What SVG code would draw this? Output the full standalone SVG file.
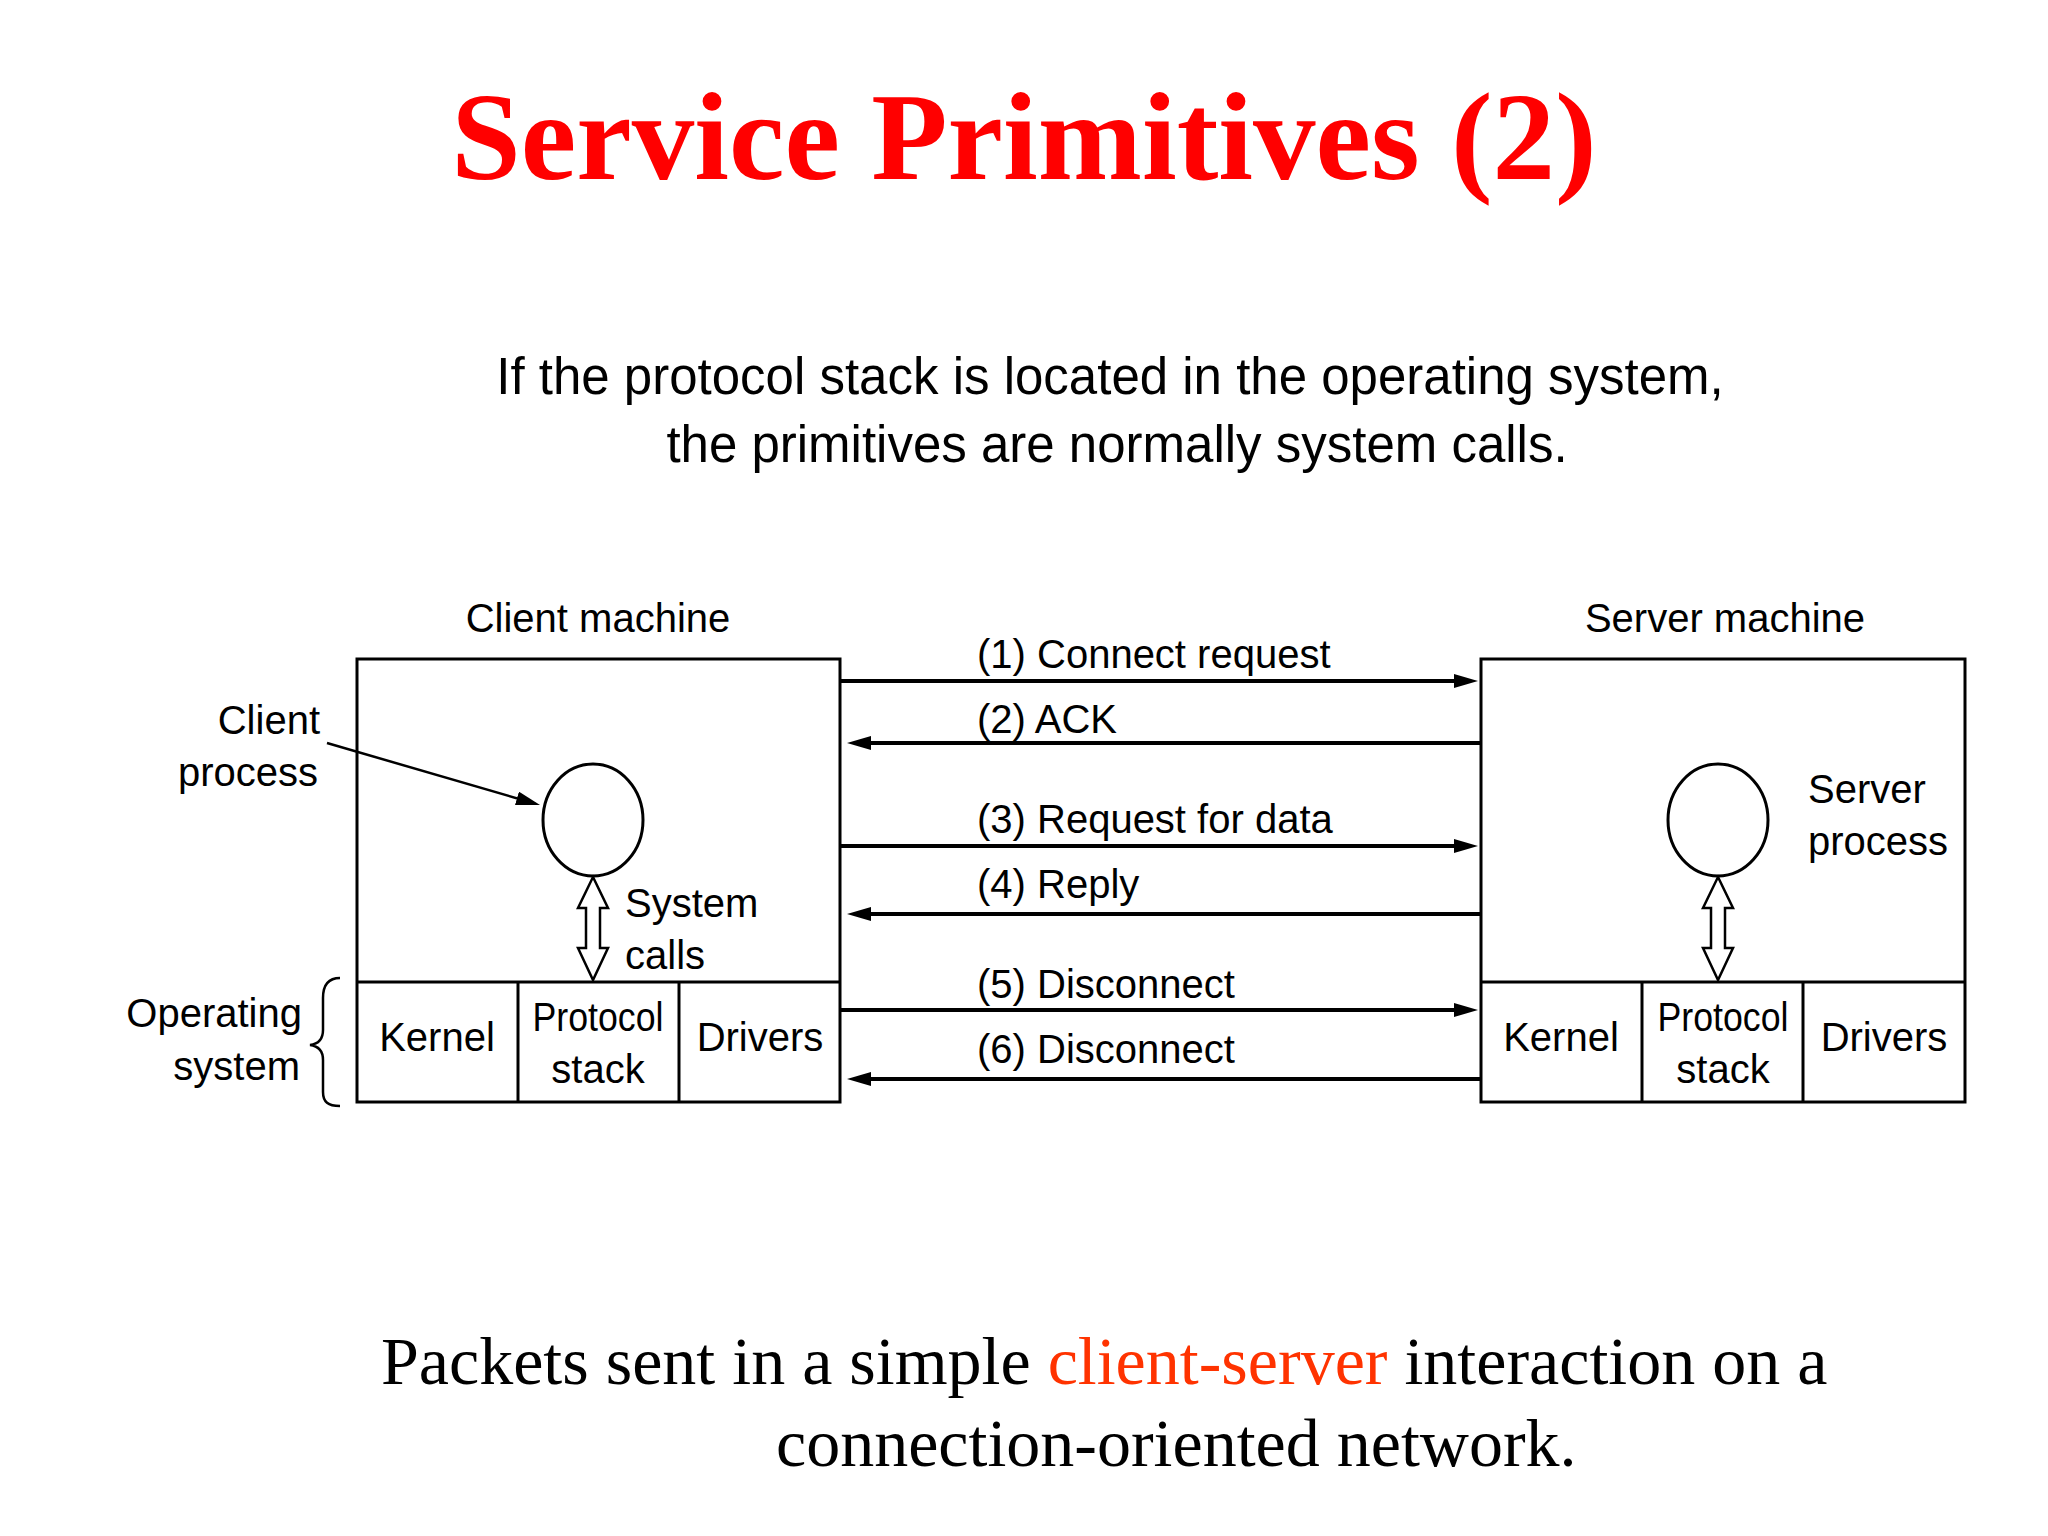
<svg xmlns="http://www.w3.org/2000/svg" width="2048" height="1536" viewBox="0 0 2048 1536">
  <style>
    .lbl { font-family: "Liberation Sans", Arial, sans-serif; font-size: 40px; fill: #000; }
    .mid { text-anchor: middle; }
    .end { text-anchor: end; }
    .box { fill: #fff; stroke: #000; stroke-width: 3; }
    .div { fill: none; stroke: #000; stroke-width: 3; }
    .proc { fill: #fff; stroke: #000; stroke-width: 3; }
    .dbl { fill: #fff; stroke: #000; stroke-width: 2.5; stroke-linejoin: miter; }
    .msg { fill: none; stroke: #000; stroke-width: 4; }
    .ptr { fill: none; stroke: #000; stroke-width: 2.5; }
    .title { font-family: "Liberation Serif", "Times New Roman", serif; font-weight: bold; font-size: 125px; fill: #ff0000; }
    .sub { font-family: "Liberation Sans", Arial, sans-serif; font-size: 51px; fill: #000; }
    .cap { font-family: "Liberation Serif", "Times New Roman", serif; font-size: 68px; fill: #000; }
  </style>
  <defs>
    <marker id="ah" markerUnits="userSpaceOnUse" markerWidth="24" markerHeight="14" viewBox="0 0 24 14" refX="12" refY="7" orient="auto">
      <path d="M0,0 L24,7 L0,14 z" fill="#000"/>
    </marker>
    <marker id="ahs" markerUnits="userSpaceOnUse" markerWidth="24" markerHeight="14" viewBox="0 0 24 14" refX="12" refY="7" orient="auto">
      <path d="M0,0 L24,7 L0,14 z" fill="#000"/>
    </marker>
  </defs>
  <rect width="2048" height="1536" fill="#fff"/>

  <text class="title mid" x="1024" y="179">Service Primitives (2)</text>
  <text class="sub mid" x="1110" y="394">If the protocol stack is located in the operating system,</text>
  <text class="sub mid" x="1117" y="462">the primitives are normally system calls.</text>

  <g id="client-machine">
    <text class="lbl mid" x="598" y="632">Client machine</text>
    <rect class="box" x="357" y="659" width="483" height="443"/>
    <line class="div" x1="357" y1="982" x2="840" y2="982"/>
    <line class="div" x1="518" y1="982" x2="518" y2="1102"/>
    <line class="div" x1="679" y1="982" x2="679" y2="1102"/>
    <text class="lbl mid" x="437" y="1051">Kernel</text>
    <text class="lbl mid" x="598" y="1031" textLength="131" lengthAdjust="spacingAndGlyphs">Protocol</text>
    <text class="lbl mid" x="598" y="1083">stack</text>
    <text class="lbl mid" x="760" y="1051">Drivers</text>
  </g>

  <g id="client-process">
    <ellipse class="proc" cx="593" cy="820" rx="50" ry="56"/>
    <text class="lbl end" x="320" y="734">Client</text>
    <text class="lbl end" x="318" y="786">process</text>
  </g>

  <g id="client-syscalls">
    <polygon class="dbl" points="593,877 608,908 600,908 600,948 608,948 593,980 578,948 586,948 586,908 578,908"/>
    <text class="lbl" x="625" y="917">System</text>
    <text class="lbl" x="625" y="969">calls</text>
  </g>

  <g id="operating-system-label">
    <path class="ptr" d="M340,978 C328,978 323,985 323,998 L323,1030 C323,1040 318,1044 310,1045 C318,1046 323,1050 323,1060 L323,1092 C323,1102 328,1106 340,1106"/>
    <text class="lbl end" x="302" y="1027">Operating</text>
    <text class="lbl end" x="300" y="1080">system</text>
  </g>

  <g id="server-machine">
    <text class="lbl mid" x="1725" y="632">Server machine</text>
    <rect class="box" x="1481" y="659" width="484" height="443"/>
    <line class="div" x1="1481" y1="982" x2="1965" y2="982"/>
    <line class="div" x1="1642" y1="982" x2="1642" y2="1102"/>
    <line class="div" x1="1803" y1="982" x2="1803" y2="1102"/>
    <text class="lbl mid" x="1561" y="1051">Kernel</text>
    <text class="lbl mid" x="1723" y="1031" textLength="131" lengthAdjust="spacingAndGlyphs">Protocol</text>
    <text class="lbl mid" x="1723" y="1083">stack</text>
    <text class="lbl mid" x="1884" y="1051">Drivers</text>
  </g>

  <g id="server-process">
    <ellipse class="proc" cx="1718" cy="820" rx="50" ry="56"/>
    <text class="lbl" x="1808" y="803">Server</text>
    <text class="lbl" x="1808" y="855">process</text>
  </g>

  <g id="server-syscalls">
    <polygon class="dbl" points="1718,877 1733,908 1725,908 1725,948 1733,948 1718,980 1703,948 1711,948 1711,908 1703,908"/>
  </g>

  <g id="connectors">
    <line class="ptr" x1="327" y1="743" x2="528.5" y2="801.7" marker-end="url(#ahs)"/>
    <line class="msg" x1="841" y1="681" x2="1466" y2="681" marker-end="url(#ah)"/>
    <line class="msg" x1="1481" y1="743" x2="859" y2="743" marker-end="url(#ah)"/>
    <line class="msg" x1="841" y1="846" x2="1466" y2="846" marker-end="url(#ah)"/>
    <line class="msg" x1="1481" y1="914" x2="859" y2="914" marker-end="url(#ah)"/>
    <line class="msg" x1="841" y1="1010" x2="1466" y2="1010" marker-end="url(#ah)"/>
    <line class="msg" x1="1481" y1="1079" x2="859" y2="1079" marker-end="url(#ah)"/>
  </g>

  <g id="message-labels">
    <text class="lbl" x="977" y="668">(1) Connect request</text>
    <text class="lbl" x="977" y="733">(2) ACK</text>
    <text class="lbl" x="977" y="833">(3) Request for data</text>
    <text class="lbl" x="977" y="898">(4) Reply</text>
    <text class="lbl" x="977" y="998">(5) Disconnect</text>
    <text class="lbl" x="977" y="1063">(6) Disconnect</text>
  </g>

  <text class="cap" x="381" y="1384">Packets sent in a simple <tspan fill="#ff3300">client-server</tspan> interaction on a</text>
  <text class="cap" x="776" y="1466">connection-oriented network.</text>
</svg>
